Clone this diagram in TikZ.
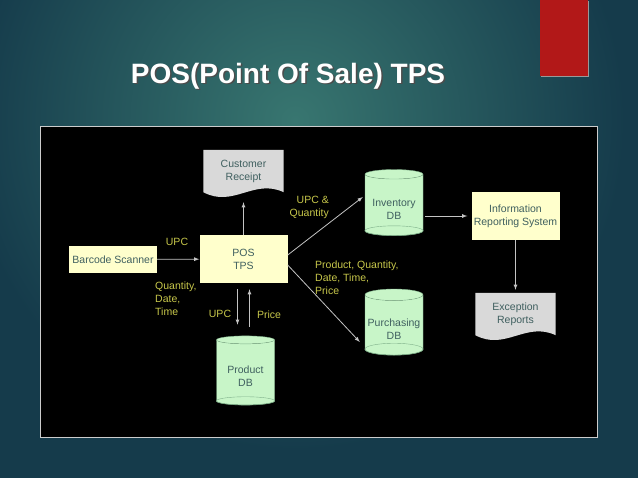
\documentclass[tikz,border=0pt]{standalone}
\usepackage{fontspec}
\setmainfont{Liberation Sans}
\usetikzlibrary{shapes.geometric,backgrounds,calc}

\definecolor{bgdark}{HTML}{153B4B}
\definecolor{bglight}{HTML}{387670}
\definecolor{redbar}{HTML}{B21818}
\definecolor{boxyellow}{HTML}{FFFFCC}
\definecolor{docgrey}{HTML}{D9D9D9}
\definecolor{dbgreen}{HTML}{C8F5C8}
\definecolor{dbline}{HTML}{7FB08A}
\definecolor{nodetext}{HTML}{3F5F5F}
\definecolor{lblyellow}{HTML}{C8C84B}
\definecolor{arrowgrey}{HTML}{C4C4C4}

\newcommand{\docwave}[1]{%
  \fill[docgrey] (#1.north west) -- (#1.north east) -- (#1.south east)
    .. controls +(-30,-14) and +(30,16) .. (#1.south west) -- cycle;}
\newcommand{\dbbase}[1]{%
  \draw[dbline] let \p1=(#1.before bottom), \p2=(#1.after bottom), \p3=(#1.bottom) in
    ($(\p1)!0.5!(\p2)$) ellipse ({abs(\x2-\x1)/2} and {abs(\y3-(\y1+\y2)/2)});}

\tikzset{
  box/.style={fill=boxyellow, text=nodetext, align=center, inner sep=0pt},
  docbox/.style={text=nodetext, align=center, inner sep=0pt, minimum width=80pt},
  dbcyl/.style={cylinder, shape border rotate=90, aspect=0.22, draw=dbline,
    cylinder uses custom fill, cylinder body fill=dbgreen, cylinder end fill=dbgreen,
    text=nodetext, align=center, inner sep=0pt, text height=28.5pt,
    minimum width=58pt, minimum height=66pt},
  flow/.style={->, >=latex, draw=arrowgrey, line width=0.8pt},
  lbl/.style={text=lblyellow, inner sep=0pt}
}

\begin{document}
\begin{tikzpicture}[x=1pt, y=-1pt, font=\fontsize{10.5}{13}\selectfont]
\useasboundingbox (0,0) rectangle (638,478);

\begin{scope}[on background layer]
\fill[bgdark] (0,0) rectangle (638,478);
\begin{scope}
\clip (0,0) rectangle (638,478);
\shade[inner color=bglight, outer color=bgdark] (295,120) circle (330);
\end{scope}
\fill[black!40] (541,1) rectangle (589,77.5);
\fill[redbar] (540,0) rectangle (588,76);
\filldraw[fill=black, draw=black!20, line width=0.8pt] (40,126) rectangle (597,437);
\end{scope}

\node[text=black!70, font=\bfseries\fontsize{28}{32}\selectfont, anchor=base]
  (titleshade) at (289.5,85) {POS(Point Of Sale) TPS};
\node[text=white, font=\bfseries\fontsize{28}{32}\selectfont, anchor=base]
  (title) at (288,83.5) {POS(Point Of Sale) TPS};

\node[box, minimum width=88pt, minimum height=27pt] (scanner) at (113,259.5) {Barcode Scanner};
\node[box, minimum width=88pt, minimum height=48pt] (pos) at (243.5,259) {POS\\TPS};
\node[box, minimum width=88pt, minimum height=48pt] (info) at (515.5,216) {Information\\Reporting System};

\node[docbox, minimum height=42pt] (recpt) at (243.5,171) {Customer\\Receipt};
\node[docbox, minimum height=42pt] (excrep) at (515.5,314) {Exception\\Reports};
\begin{scope}[on background layer]
\docwave{recpt}
\docwave{excrep}
\end{scope}

\node[dbcyl] (invdb) at (394,205) {Inventory\\DB};
\node[dbcyl] (purdb) at (394,325) {Purchasing\\DB};
\node[dbcyl, minimum height=69pt] (proddb) at (245.5,372.5) {Product\\DB};
\dbbase{invdb}
\dbbase{purdb}
\dbbase{proddb}

\draw[flow] (scanner) -- (pos);
\draw[flow, shorten >=10pt] (pos) -- (recpt);
\draw[flow] ([yshift=4pt]pos.east) -- ([shift={(-2pt,8pt)}]invdb.west);
\draw[flow] ([yshift=-6pt]pos.east) -- ([shift={(-5pt,-17pt)}]purdb.west);
\draw[flow, shorten <=2pt, shorten >=4pt] (invdb.east |- info.west) -- (info.west);
\draw[flow, shorten >=3pt] (info) -- (excrep);
\draw[flow, shorten <=6pt, shorten >=11pt] ([xshift=-6pt]pos.south) -- ([xshift=-6pt]pos.south |- proddb.north);
\draw[flow, shorten <=9pt, shorten >=6pt] ([xshift=6pt]pos.south |- proddb.north) -- ([xshift=6pt]pos.south);

\node[lbl] (lupc) at (177,242) {UPC};
\node[lbl, align=right, anchor=east] (lupcqty) at (329,207) {UPC \&\\Quantity};
\node[lbl, align=left, anchor=west] (lprod) at (315,278) {Product, Quantity,\\Date, Time,\\Price};
\node[lbl, align=left, anchor=west] (lqty) at (155,299) {Quantity,\\Date,\\Time};
\node[lbl] (lupcprod) at (220,314) {UPC};
\node[lbl] (lprice) at (269,315) {Price};

\end{tikzpicture}
\end{document}
